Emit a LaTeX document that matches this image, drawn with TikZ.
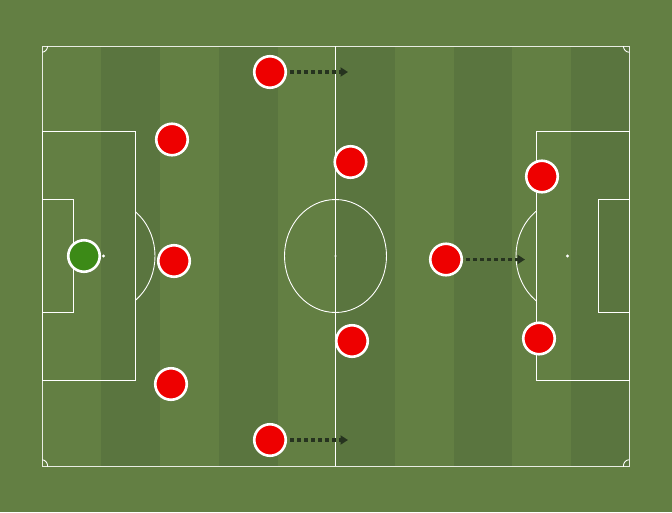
\documentclass[tikz,border=0pt]{standalone}
\usetikzlibrary{arrows.meta,shadows}
\definecolor{grassL}{HTML}{637F43}
\definecolor{grassD}{HTML}{5A753F}
\definecolor{plred}{HTML}{EE0000}
\definecolor{plgreen}{HTML}{3C8A17}
\definecolor{runc}{HTML}{26331F}
\tikzset{
  pline/.style={draw=white, line width=0.9pt},
  player/.style={circle, draw=white, line width=2.6pt, minimum size=31.5pt, inner sep=0pt,
    drop shadow={shadow xshift=0.6pt, shadow yshift=-1.2pt, opacity=0.25, fill=black}},
  redp/.style={player, fill=plred},
  gk/.style={player, fill=plgreen},
  run/.style={draw=runc, line width=3.3pt, dash pattern=on 4pt off 3pt, shorten <=3pt,
    -{Triangle[length=7.5pt,width=9pt]}},
}
\begin{document}
\begin{tikzpicture}[x=1pt,y=-1pt]
\useasboundingbox (0,0) rectangle (672,512);
\fill[grassL] (0,0) rectangle (672,512);
% stripes
\foreach \a/\b in {101/160,219/277.5,336/395,453.5/512,570.5/629}
  \fill[grassD] (\a,46) rectangle (\b,466);
% pitch outline
\draw[pline, draw=white!85!grassL] (42,46) rectangle (629,466);
\draw[pline] (335.5,46) -- (335.5,466);
% centre circle and spot
\draw[pline] (335.5,256) ellipse [x radius=51, y radius=56.5];
\fill[white] (335.5,256) circle (1.2);
% left penalty area
\draw[pline] (42,131) rectangle (135,380);
\draw[pline] (42,199.5) rectangle (73,312);
\fill[white] (103.5,256) circle (1.6);
\begin{scope}
  \clip (135,0) rectangle (300,512);
  \draw[pline] (103.5,256) ellipse [x radius=51.5, y radius=56.5];
\end{scope}
% right penalty area
\draw[pline] (536,131) rectangle (629,380);
\draw[pline] (598,199.5) rectangle (629,312);
\fill[white] (567.5,256) circle (1.6);
\begin{scope}
  \clip (400,0) rectangle (536,512);
  \draw[pline] (567.5,256) ellipse [x radius=51.5, y radius=56.5];
\end{scope}
% corner arcs
\begin{scope}
  \clip (42,46) rectangle (629,466);
  \foreach \cx/\cy in {42/46,629/46,42/466,629/466}
    \draw[pline] (\cx,\cy) ellipse [x radius=5.6, y radius=6.2];
\end{scope}
% players
\node[gk] (p1) at (84,256) {};
\node[redp] (p2) at (172,139.5) {};
\node[redp] (p3) at (174,261) {};
\node[redp] (p4) at (171,384) {};
\node[redp] (p5) at (270,72) {};
\node[redp] (p6) at (270,440) {};
\node[redp] (p7) at (350.5,162) {};
\node[redp] (p8) at (352,341) {};
\node[redp] (p9) at (446,259.5) {};
\node[redp] (p10) at (542,176.5) {};
\node[redp] (p11) at (539,338.5) {};
% runs
\coordinate (t5) at (348,72);
\coordinate (t6) at (348,440);
\coordinate (t9) at (525,259.5);
\draw[run] (p5) -- (t5);
\draw[run] (p6) -- (t6);
\draw[run] (p9) -- (t9);
\end{tikzpicture}
\end{document}
